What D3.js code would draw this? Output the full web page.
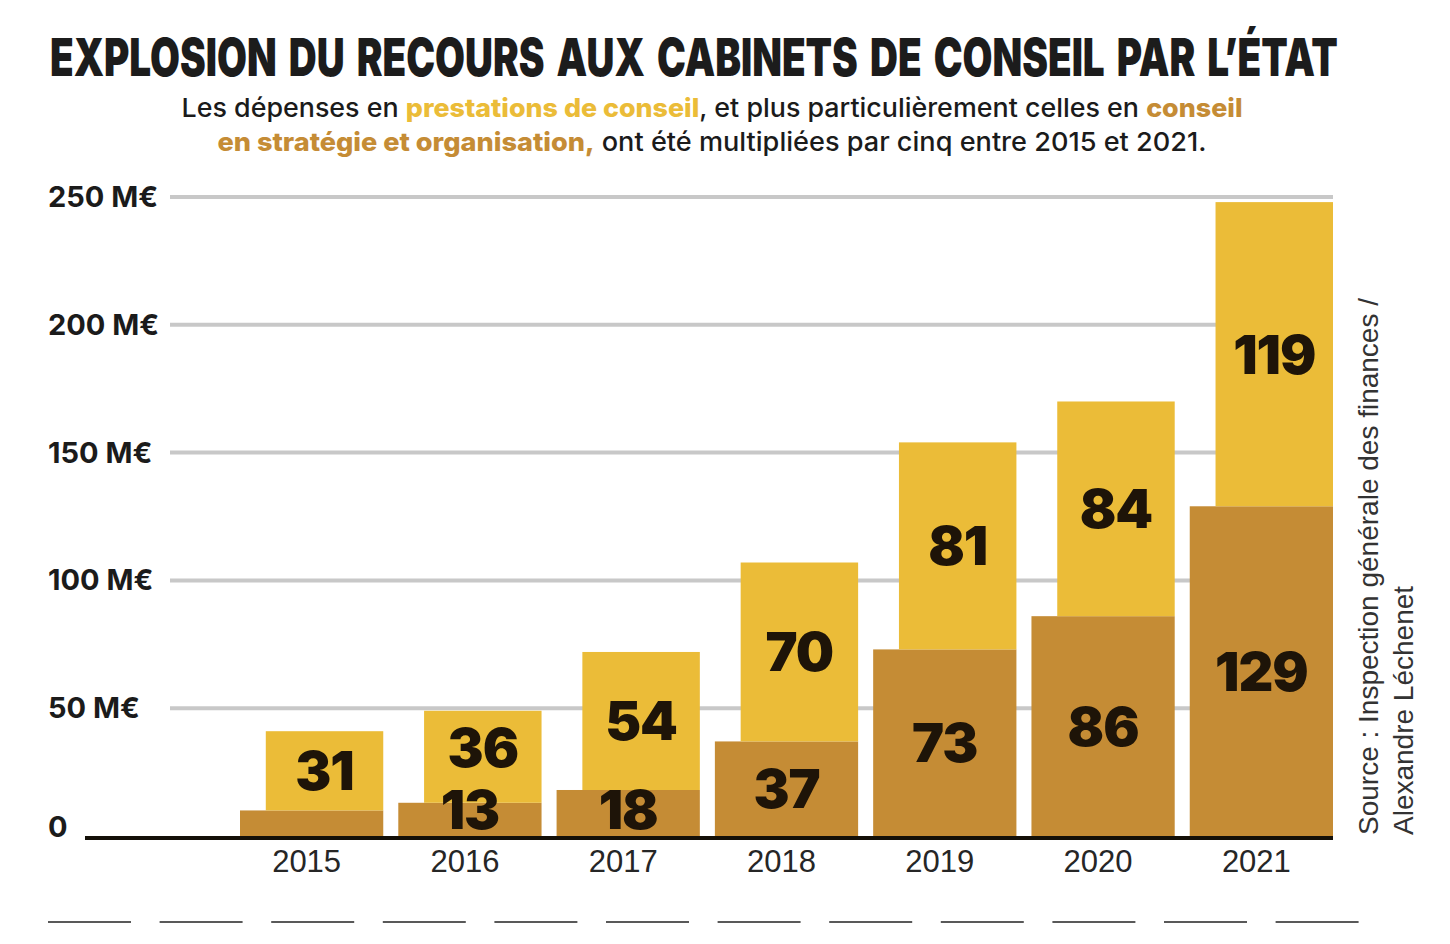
<!DOCTYPE html>
<html lang="fr">
<head>
<meta charset="utf-8">
<script src="https://cdn.jsdelivr.net/npm/d3@7"></script>
<style>
  html, body { margin: 0; padding: 0; background: #ffffff; }
  svg { display: block; }
</style>
</head>
<body>
<svg id="chart" width="1450" height="944"></svg>
<script>
// ---- Data ----
const years = ["2015", "2016", "2017", "2018", "2019", "2020", "2021"];
// Conseil en stratégie et organisation (dark gold, bottom)
const strategie = [10, 13, 18, 37, 73, 86, 129];
// Autres prestations de conseil (yellow, top)
const autres = [31, 36, 54, 70, 81, 84, 119];
const yTicks = [0, 50, 100, 150, 200, 250];
const yTickLabels = ["0", "50 M€", "100 M€", "150 M€", "200 M€", "250 M€"];

const title = "EXPLOSION DU RECOURS AUX CABINETS DE CONSEIL PAR L’ÉTAT";
const subtitle1 = [
  { t: "Les dépenses en ", c: "text" },
  { t: "prestations de conseil", c: "yellow" },
  { t: ", et plus particulièrement celles en ", c: "text" },
  { t: "conseil", c: "gold" }
];
const subtitle2 = [
  { t: "en stratégie et organisation,", c: "gold" },
  { t: " ont été multipliées par cinq entre 2015 et 2021.", c: "text" }
];
const sourceLines = ["Source : Inspection générale des finances /", "Alexandre Léchenet"];

// ---- Styles ----
const COL = { yellow: "#EBBC38", gold: "#C58C35", text: "#1b1b1b", label: "#1e1408", grid: "#c8c8c8" };

const svg = d3.select("#chart");

// ---- Scales ----
const x = d3.scaleBand().domain(years).range([240, 1333]).paddingInner(0.095).paddingOuter(0);
const y = d3.scaleLinear().domain([0, 250]).range([836, 197]);
const yellowInset = x.bandwidth() * 0.18;

// ---- Title ----
const tg = svg.append("g");
const tt = tg.append("text")
  .attr("x", 0).attr("y", 0)
  .style("font-family", "Inter, 'Noto Sans', sans-serif")
  .style("font-weight", 900).style("font-size", "52px")
  .style("word-spacing", "6px")
  .attr("fill", "#1c1c1c")
  .text(title);
const tw = tt.node().getBBox().width;
tg.attr("transform", `translate(50,76) scale(${1288 / tw},1)`);

// ---- Subtitle ----
function subLine(parts, yy, len) {
  const t = svg.append("text")
    .attr("x", 712).attr("y", yy)
    .attr("text-anchor", "middle")
    .attr("textLength", len).attr("lengthAdjust", "spacingAndGlyphs")
    .style("font-family", "Inter, 'Noto Sans', sans-serif")
    .style("font-size", "26px");
  parts.forEach(p => {
    t.append("tspan")
      .attr("fill", COL[p.c])
      .style("font-weight", p.c === "text" ? 500 : 800)
      .text(p.t);
  });
}
subLine(subtitle1, 117, 1061);
subLine(subtitle2, 151, 989);

// ---- Gridlines ----
svg.append("g").selectAll("line")
  .data(yTicks.filter(v => v > 0))
  .join("line")
  .attr("x1", 170).attr("x2", 1333)
  .attr("y1", d => y(d)).attr("y2", d => y(d))
  .attr("stroke", COL.grid).attr("stroke-width", 4);

// ---- Y labels ----
svg.append("g").selectAll("text")
  .data(yTicks)
  .join("text")
  .attr("x", 48)
  .attr("y", d => (d === 0 ? y(d) - 9 : y(d)) + 10)
  .style("font-family", "Inter, 'Liberation Sans', sans-serif")
  .style("font-weight", 700).style("font-size", "29px")
  .attr("fill", "#1b1b1b")
  .text((d, i) => yTickLabels[i]);

// ---- Bars ----
const bars = svg.append("g");
// dark gold (strategy)
bars.selectAll("rect.s")
  .data(years)
  .join("rect").attr("class", "s")
  .attr("x", d => x(d))
  .attr("width", x.bandwidth())
  .attr("y", (d, i) => y(strategie[i]))
  .attr("height", (d, i) => y(0) - y(strategie[i]))
  .attr("fill", COL.gold);
// yellow (other consulting) stacked on top
bars.selectAll("rect.a")
  .data(years)
  .join("rect").attr("class", "a")
  .attr("x", d => x(d) + yellowInset)
  .attr("width", x.bandwidth() - yellowInset)
  .attr("y", (d, i) => y(strategie[i] + autres[i]))
  .attr("height", (d, i) => y(strategie[i]) - y(strategie[i] + autres[i]))
  .attr("fill", COL.yellow);

// ---- Baseline ----
svg.append("line")
  .attr("x1", 85).attr("x2", 1333)
  .attr("y1", y(0) + 2).attr("y2", y(0) + 2)
  .attr("stroke", "#141008").attr("stroke-width", 4);

// ---- Value labels ----
const capHalf = 19.5;
const labelStyle = sel => sel
  .attr("text-anchor", "middle")
  .style("font-family", "Inter, 'Noto Sans', sans-serif")
  .style("font-weight", 900).style("font-size", "54px")
  .style("letter-spacing", "-1px")
  .attr("fill", COL.label);

const darkCenter = strategie.map(v => Math.min((y(0) + y(v)) / 2, y(0) - 27));
const hasDark = strategie.map(v => v >= 12);

svg.append("g").selectAll("text")
  .data(years.filter((d, i) => hasDark[i]))
  .join("text")
  .call(labelStyle)
  .attr("x", d => x(d) + x.bandwidth() / 2)
  .attr("y", d => darkCenter[years.indexOf(d)] + capHalf)
  .text(d => strategie[years.indexOf(d)]);

svg.append("g").selectAll("text")
  .data(years)
  .join("text")
  .call(labelStyle)
  .attr("x", d => x(d) + yellowInset + (x.bandwidth() - yellowInset) / 2)
  .attr("y", (d, i) => {
    let c = (y(strategie[i]) + y(strategie[i] + autres[i])) / 2;
    if (hasDark[i]) c = Math.min(c, darkCenter[i] - 62);
    return c + capHalf;
  })
  .text((d, i) => autres[i]);

// ---- X axis labels ----
svg.append("g").selectAll("text")
  .data(years)
  .join("text")
  .attr("x", d => x(d) + x.bandwidth() / 2 - 5)
  .attr("y", 872)
  .attr("text-anchor", "middle")
  .style("font-family", "'Liberation Sans', Arial, sans-serif")
  .style("font-size", "31px")
  .attr("fill", "#262626")
  .text(d => d);

// ---- Source (rotated) ----
sourceLines.forEach((s, i) => {
  svg.append("text")
    .attr("transform", `translate(${1378 + i * 35},835) rotate(-90)`)
    .style("font-family", "'Liberation Sans', Arial, sans-serif")
    .style("font-size", "28px")
    .attr("fill", "#333")
    .text(s);
});

// ---- Bottom decorative dashes ----
svg.append("g").selectAll("line")
  .data(d3.range(12))
  .join("line")
  .attr("x1", d => 48 + d * 111.6)
  .attr("x2", d => 48 + d * 111.6 + 83)
  .attr("y1", 922).attr("y2", 922)
  .attr("stroke", "#222").attr("stroke-width", 1.5);
</script>
</body>
</html>
